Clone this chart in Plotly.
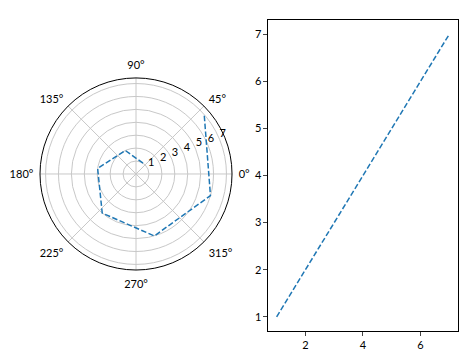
import numpy as np
import plotly.graph_objects as go

# Data
theta_rad = [1, 2, 3, 4, 5, 6, 7]
r_vals = [1, 2, 3, 4, 5, 6, 7]
x_vals = [1, 2, 3, 4, 5, 6, 7]
y_vals = [1, 2, 3, 4, 5, 6, 7]
angle_ticks = [0, 45, 90, 135, 180, 225, 270, 315]
radial_ticks = [1, 2, 3, 4, 5, 6, 7]
x_ticks = [2, 4, 6]
y_ticks = [1, 2, 3, 4, 5, 6, 7]

blue = "#1f77b4"
dash = "5.5px,2.4px"
font = dict(family="Lato, DejaVu Sans, sans-serif", size=11, color="black")
label_angle = 22.5

fig = go.Figure()
fig.add_trace(go.Scatterpolar(
    r=r_vals, theta=list(np.degrees(theta_rad)), mode="lines",
    line=dict(color=blue, dash=dash, width=1.5), showlegend=False,
    hoverinfo="skip",
))
# radial tick labels (matplotlib style, placed along 22.5 deg)
fig.add_trace(go.Scatterpolar(
    r=radial_ticks, theta=[label_angle] * len(radial_ticks), mode="text",
    text=[str(v) for v in radial_ticks], textposition="top right",
    textfont=font, showlegend=False, hoverinfo="skip",
))
fig.add_trace(go.Scatter(
    x=x_vals, y=y_vals, mode="lines",
    line=dict(color=blue, dash=dash, width=1.5), showlegend=False,
    xaxis="x", yaxis="y",
))

fig.update_layout(
    width=474, height=356, margin=dict(l=0, r=0, t=0, b=0),
    paper_bgcolor="white", plot_bgcolor="white", font=font,
    polar=dict(
        domain=dict(x=[0.0844, 0.4895], y=[0.2416, 0.781]),
        bgcolor="white",
        radialaxis=dict(range=[0, 7.43], tickvals=radial_ticks, angle=22.5,
                        showticklabels=False, showline=False, ticks="",
                        gridcolor="#c8c8c8", gridwidth=0.8),
        angularaxis=dict(tickmode="array", tickvals=angle_ticks,
                         ticktext=[f"{a}°" for a in angle_ticks],
                         direction="counterclockwise", rotation=0,
                         showline=True, linecolor="black", linewidth=1,
                         gridcolor="#c8c8c8", gridwidth=0.8,
                         ticks="outside", ticklen=4,
                         tickcolor="rgba(0,0,0,0)", tickfont=font),
    ),
    xaxis=dict(domain=[0.5654, 0.9662], range=[0.7, 7.3], tickvals=x_ticks,
               showline=True, linecolor="black", linewidth=1, mirror=True,
               ticks="outside", ticklen=3.5, showgrid=False, zeroline=False,
               anchor="y", tickfont=font),
    yaxis=dict(domain=[0.0702, 0.9438], range=[0.7, 7.3], tickvals=y_ticks,
               showline=True, linecolor="black", linewidth=1, mirror=True,
               ticks="outside", ticklen=3.5, showgrid=False, zeroline=False,
               anchor="x", tickfont=font),
)

fig.write_html("out.html")
